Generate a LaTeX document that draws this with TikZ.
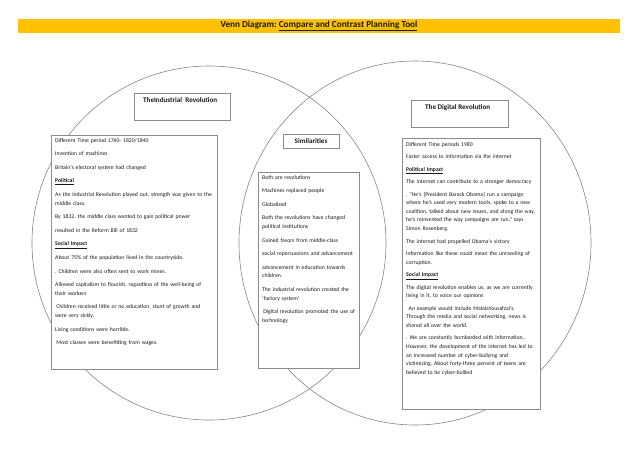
\documentclass[tikz,border=0pt]{standalone}
\usepackage{fontspec}
\setmainfont{Carlito}
\frenchspacing
\definecolor{titlebar}{HTML}{FFC000}
\definecolor{linegray}{HTML}{858585}
\definecolor{boxgray}{HTML}{8C8C8C}
\definecolor{txt}{HTML}{1A1A1A}
\newcommand{\hd}[1]{\underline{\textbf{#1}}}
\begin{document}
\begin{tikzpicture}[x=1pt,y=-1pt,
  venn/.style={draw=linegray,line width=0.6pt},
  panel/.style={draw=boxgray,line width=0.6pt,fill=white},
  body/.style={anchor=north west,inner sep=0pt,align=left,text=txt,
    font=\fontsize{5.7}{8.6}\selectfont},
  headtxt/.style={font=\fontsize{7.1}{8}\selectfont\bfseries,text=txt,inner sep=0pt}]
\useasboundingbox (0,0) rectangle (638,451);
% title bar
\node[fill=titlebar,minimum width=602pt,minimum height=14pt,inner sep=0pt,
  font=\fontsize{9.2}{10}\selectfont\bfseries,text=txt] (title) at (319,26)
  {Venn Diagram: \underline{Compare and Contrast Planning Tool}};
% circles
\draw[venn] (209,243) ellipse [x radius=177pt, y radius=177pt];
\draw[venn] (415,243) ellipse [x radius=176pt, y radius=182pt];
% heading boxes
\draw[panel] (134,93) rectangle (230,120);
\node[headtxt,anchor=north west] (indhead) at (143,97) {TheIndustrial\ \ Revolution};
\draw[panel] (411,100) rectangle (508,127);
\node[headtxt,anchor=north west] (dighead) at (425,104) {The Digital Revolution};
\draw[panel] (283,134) rectangle (339,148);
\node[headtxt] (simhead) at (311,141.5) {Similarities};
% content boxes
\draw[panel] (51,135) rectangle (217,369);
\draw[panel] (258,172) rectangle (359,368);
\draw[panel] (402,138) rectangle (540,409);
\node[body,text width=160pt] (indtext) at (55,138) {\setlength{\parskip}{5.0pt}%
Different Time period 1760- 1820/1840\par
Invention of machines\par
Britain’s electoral system had changed\par
\hd{Political}\par
As the Industrial Revolution played out, strength was given to the\\ middle class.\par
By 1832, the middle class wanted to gain political power\par
resulted in the Reform Bill of 1832\par
\hd{Social Impact}\par
About 75\% of the population lived in the countryside.\par
. Children were also often sent to work mines.\par
Allowed capitalism to flourish, regardless of the well-being of\\ their workers\par
\hspace*{1.2pt}Children received little or no education, stunt of growth and\\ were very sickly.\par
Living conditions were horrible.\par
\hspace*{1.2pt}Most classes were benefitting from wages.\par};
\node[body,text width=98pt] (simtext) at (262,175) {\setlength{\parskip}{5.0pt}%
Both are revolutions\par
Machines replaced people\par
Globalized\par
Both the revolutions have changed\\ political institutions\par
Gained favors from middle-class\par
social repercussions and advancement\par
advancement in education towards\\ children.\par
The industrial revolution created the\\ ‘factory system’\par
\hspace*{1.2pt}Digital revolution promoted the use of\\ technology\par};
\node[body,text width=134pt] (digtext) at (406,142) {\setlength{\parskip}{3.9pt}%
Different Time periods 1980\par
Faster access to information via the internet\par
\hd{Political Impact}\par
The internet can contribute to a stronger democracy\par
. “He’s [President Barack Obama] run a campaign\\ where he’s used very modern tools, spoke to a new\\ coalition, talked about new issues, and along the way,\\ he’s reinvented the way campaigns are run,” says\\ Simon Rosenberg.\par
The internet had propelled Obama’s victory\par
Information like these could mean the unraveling of\\ corruption.\par
\hd{Social Impact}\par
The digital revolution enables us, as we are currently\\ living in it, to voice our opinions\par
\hspace*{2.5pt}An example would include MalalaYousafzai’s.\\ Through the media and social networking, news is\\ shared all over the world.\par
. We are constantly bombarded with information..\\ However, the development of the internet has led to\\ an increased number of cyber-bullying and\\ victimizing. About forty-three percent of teens are\\ believed to be cyber-bullied\par};
\end{tikzpicture}
\end{document}
